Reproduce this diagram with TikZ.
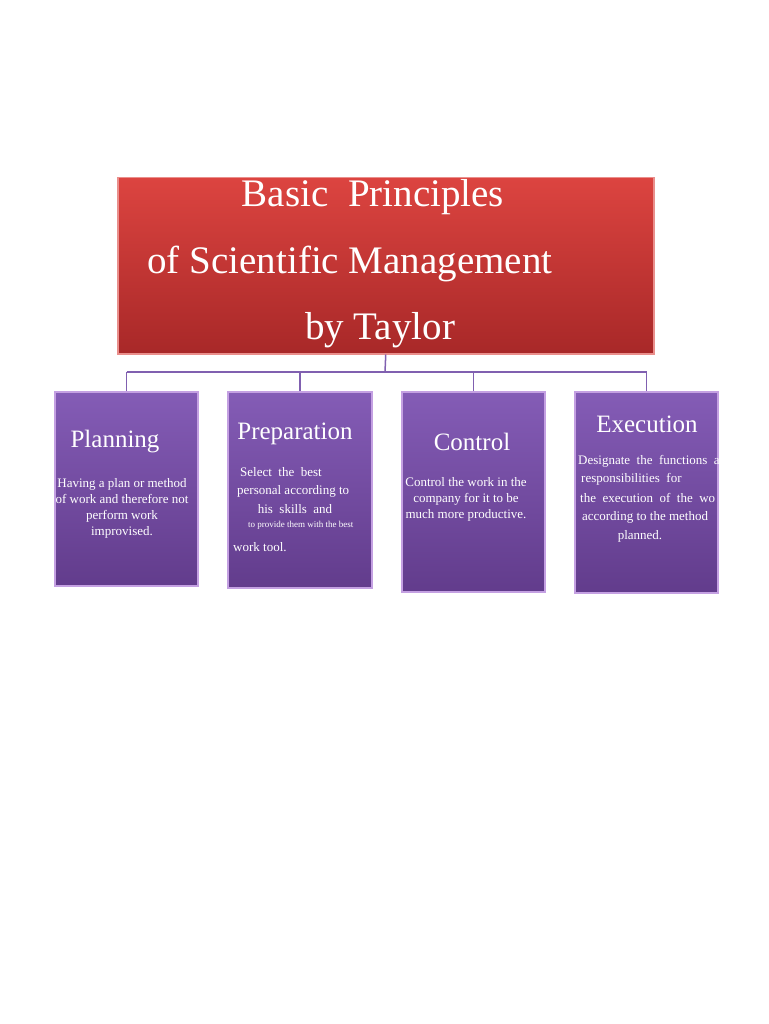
\documentclass[tikz,border=0pt]{standalone}
\usepackage{fontspec}
\setmainfont{Liberation Serif}
\usetikzlibrary{calc}
\definecolor{redtop}{RGB}{220,68,64}
\definecolor{redbot}{RGB}{168,40,40}
\definecolor{purtop}{RGB}{132,92,182}
\definecolor{purbot}{RGB}{98,60,140}
\definecolor{puredge}{RGB}{196,160,226}
\definecolor{linkcol}{RGB}{128,96,176}
\tikzset{%
	titlebox/.style = {draw=redtop!60!white,line width=1.5,top color=redtop,bottom color=redbot},
	stagebox/.style = {draw=puredge,line width=2,top color=purtop,bottom color=purbot},
	head/.style = {text=white,font=\fontsize{25}{25}\selectfont,inner sep=0},
	body/.style = {text=white,font=\fontsize{13}{16}\selectfont,inner sep=0},
	tiny/.style = {text=white,font=\fontsize{9}{10}\selectfont,inner sep=0},
	big/.style = {text=white,font=\fontsize{39}{39}\selectfont,inner sep=0},
	link/.style = {draw=linkcol,line width=1.5}%
}

\begin{document}
\begin{tikzpicture}[x=1pt,y=-1pt]
			\useasboundingbox[fill=white](0,0)rectangle(768,1024);
			
			\node(title)[titlebox,minimum width=536,minimum height=176,anchor=north west]at(117,177){};
			\node(t1)[big]at(373,197){Basic\ \ Principles};
			\node(t2)[big]at(350,264){of Scientific Management};
			\node(t3)[big]at(380,330){by Taylor};
			
			\node(plan)[stagebox,minimum width=143,minimum height=194,anchor=north west]at(54,391){};
			\node(prep)[stagebox,minimum width=144,minimum height=196,anchor=north west]at(227,391){};
			\node(ctrl)[stagebox,minimum width=143,minimum height=200,anchor=north west]at(401,391){};
			\node(exec)[stagebox,minimum width=143,minimum height=201,anchor=north west]at(574,391){};
			
			\coordinate(hub)at(385,372);
			\draw[link](title.south)--(hub);
			\draw[link]($(plan.north)+(0,-19)$)--($(exec.north)+(0,-19)$);
			\foreach \b in {plan,prep,ctrl,exec}{
				\draw[link](\b.north)--++(0,-19);
			}
			
			\node[head]at(115,442){Planning};
			\node[body,align=center]at(122,508){Having a plan or method\\of work and therefore not\\perform work\\improvised.};
			
			\node[head]at(295,434){Preparation};
			\node[body,anchor=west]at(240,472){Select\ \ the\ \ best};
			\node[body,anchor=west]at(237,491){personal according to};
			\node[body]at(295,509){his\ \ skills\ \ and};
			\node[tiny,anchor=west]at(248,525){to provide them with the best};
			\node[body,anchor=west]at(233,547){work tool.};
			
			\node[head]at(472,442){Control};
			\node[body,align=center]at(466,499){Control the work in the\\company for it to be\\much more productive.};
			
			\node[head]at(647,424){Execution};
			\node[body,anchor=west]at(578,461){Designate\ \ the\ \ functions\ \ a};
			\node[body,anchor=west]at(581,479){responsibilities\ \ for};
			\node[body,anchor=west]at(580,498){the\ \ execution\ \ of\ \ the\ \ wo};
			\node[body]at(645,517){according to the method};
			\node[body]at(640,536){planned.};
		\end{tikzpicture}
\end{document}
